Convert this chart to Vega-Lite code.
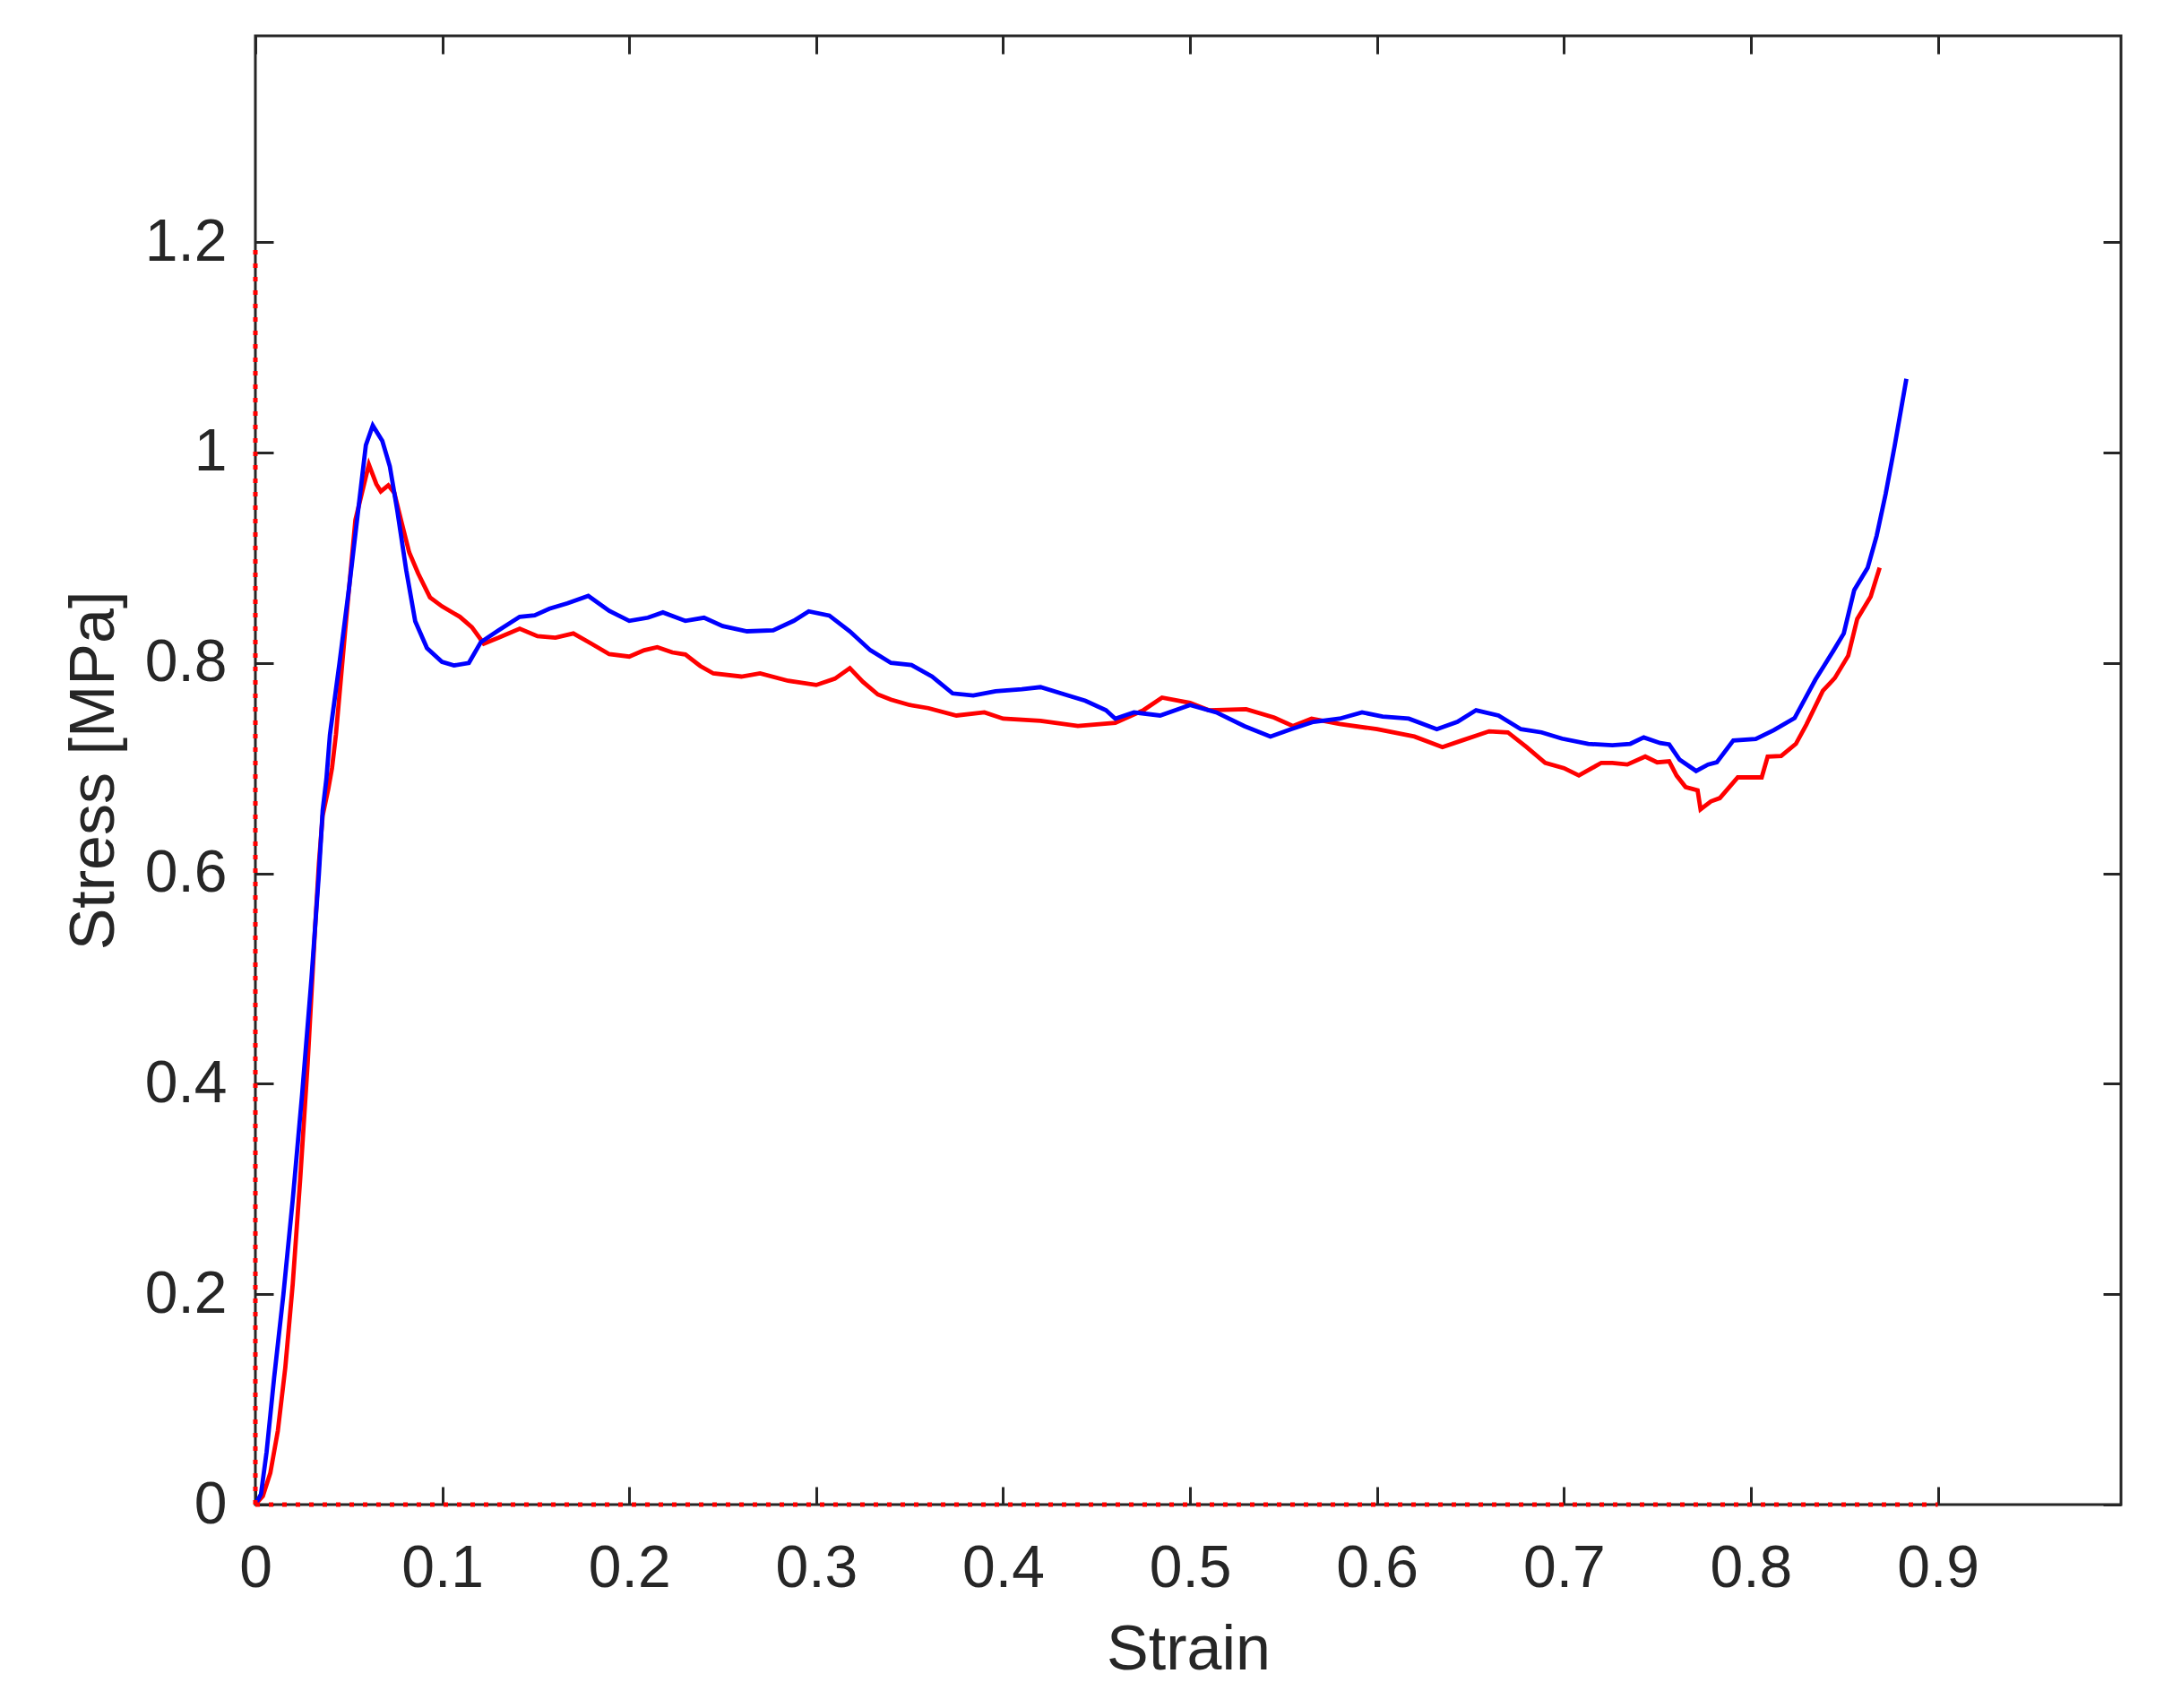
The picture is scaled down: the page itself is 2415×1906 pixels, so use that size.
{
  "$schema": "https://vega.github.io/schema/vega-lite/v6.json",
  "width": 2082,
  "height": 1639,
  "autosize": {"type": "none"},
  "padding": {"left": 285, "top": 40, "right": 48, "bottom": 227},
  "background": "white",
  "config": {
    "view": {"stroke": "#262626", "strokeWidth": 3},
    "font": "Liberation Sans",
    "axis": {
      "domain": false,
      "grid": false,
      "tickColor": "#262626",
      "tickWidth": 3,
      "tickSize": -20,
      "labelFont": "Liberation Sans",
      "labelFontSize": 66,
      "labelColor": "#262626",
      "labelFlush": false,
      "labelOverlap": false,
      "titleFont": "Liberation Sans",
      "titleFontSize": 70,
      "titleFontWeight": "normal",
      "titleColor": "#262626"
    }
  },
  "datasets": {
    "curves": [
      {"s": "red", "x": 0, "y": 0},
      {"s": "red", "x": 0.004, "y": 0.008},
      {"s": "red", "x": 0.008, "y": 0.03},
      {"s": "red", "x": 0.012, "y": 0.07},
      {"s": "red", "x": 0.016, "y": 0.13},
      {"s": "red", "x": 0.02, "y": 0.21},
      {"s": "red", "x": 0.024, "y": 0.31},
      {"s": "red", "x": 0.028, "y": 0.42},
      {"s": "red", "x": 0.032, "y": 0.55},
      {"s": "red", "x": 0.034, "y": 0.61},
      {"s": "red", "x": 0.036, "y": 0.655},
      {"s": "red", "x": 0.039, "y": 0.68},
      {"s": "red", "x": 0.041, "y": 0.7},
      {"s": "red", "x": 0.0431, "y": 0.732},
      {"s": "red", "x": 0.048, "y": 0.83},
      {"s": "red", "x": 0.0535, "y": 0.936},
      {"s": "red", "x": 0.0607, "y": 0.9886},
      {"s": "red", "x": 0.0647, "y": 0.97},
      {"s": "red", "x": 0.0671, "y": 0.963},
      {"s": "red", "x": 0.0711, "y": 0.9688},
      {"s": "red", "x": 0.0743, "y": 0.9617},
      {"s": "red", "x": 0.0783, "y": 0.933},
      {"s": "red", "x": 0.0823, "y": 0.905},
      {"s": "red", "x": 0.0871, "y": 0.885},
      {"s": "red", "x": 0.0934, "y": 0.8623},
      {"s": "red", "x": 0.0998, "y": 0.8538},
      {"s": "red", "x": 0.1094, "y": 0.8438},
      {"s": "red", "x": 0.1158, "y": 0.834},
      {"s": "red", "x": 0.1222, "y": 0.8183},
      {"s": "red", "x": 0.1302, "y": 0.824},
      {"s": "red", "x": 0.1414, "y": 0.8325},
      {"s": "red", "x": 0.1509, "y": 0.8254},
      {"s": "red", "x": 0.1605, "y": 0.824},
      {"s": "red", "x": 0.1701, "y": 0.828},
      {"s": "red", "x": 0.1797, "y": 0.8183},
      {"s": "red", "x": 0.1893, "y": 0.8083},
      {"s": "red", "x": 0.2, "y": 0.806},
      {"s": "red", "x": 0.208, "y": 0.812},
      {"s": "red", "x": 0.215, "y": 0.815},
      {"s": "red", "x": 0.223, "y": 0.81},
      {"s": "red", "x": 0.23, "y": 0.808},
      {"s": "red", "x": 0.238, "y": 0.797},
      {"s": "red", "x": 0.245, "y": 0.79},
      {"s": "red", "x": 0.26, "y": 0.787},
      {"s": "red", "x": 0.27, "y": 0.79},
      {"s": "red", "x": 0.285, "y": 0.783},
      {"s": "red", "x": 0.3, "y": 0.779},
      {"s": "red", "x": 0.31, "y": 0.785},
      {"s": "red", "x": 0.318, "y": 0.795},
      {"s": "red", "x": 0.325, "y": 0.782},
      {"s": "red", "x": 0.333, "y": 0.77},
      {"s": "red", "x": 0.34, "y": 0.765},
      {"s": "red", "x": 0.35, "y": 0.76},
      {"s": "red", "x": 0.36, "y": 0.757},
      {"s": "red", "x": 0.375, "y": 0.75},
      {"s": "red", "x": 0.39, "y": 0.753},
      {"s": "red", "x": 0.4, "y": 0.747},
      {"s": "red", "x": 0.42, "y": 0.745},
      {"s": "red", "x": 0.44, "y": 0.74},
      {"s": "red", "x": 0.46, "y": 0.743},
      {"s": "red", "x": 0.475, "y": 0.755},
      {"s": "red", "x": 0.485, "y": 0.767},
      {"s": "red", "x": 0.5, "y": 0.762},
      {"s": "red", "x": 0.51, "y": 0.755},
      {"s": "red", "x": 0.53, "y": 0.756},
      {"s": "red", "x": 0.545, "y": 0.748},
      {"s": "red", "x": 0.555, "y": 0.74},
      {"s": "red", "x": 0.565, "y": 0.747},
      {"s": "red", "x": 0.58, "y": 0.742},
      {"s": "red", "x": 0.6, "y": 0.737},
      {"s": "red", "x": 0.62, "y": 0.73},
      {"s": "red", "x": 0.635, "y": 0.72},
      {"s": "red", "x": 0.645, "y": 0.726},
      {"s": "red", "x": 0.66, "y": 0.735},
      {"s": "red", "x": 0.67, "y": 0.734},
      {"s": "red", "x": 0.68, "y": 0.72},
      {"s": "red", "x": 0.69, "y": 0.705},
      {"s": "red", "x": 0.7, "y": 0.7},
      {"s": "red", "x": 0.708, "y": 0.693},
      {"s": "red", "x": 0.715, "y": 0.7},
      {"s": "red", "x": 0.72, "y": 0.705},
      {"s": "red", "x": 0.7259, "y": 0.705},
      {"s": "red", "x": 0.7339, "y": 0.7034},
      {"s": "red", "x": 0.7435, "y": 0.711},
      {"s": "red", "x": 0.7499, "y": 0.7055},
      {"s": "red", "x": 0.7563, "y": 0.7064},
      {"s": "red", "x": 0.7603, "y": 0.6928},
      {"s": "red", "x": 0.7651, "y": 0.682},
      {"s": "red", "x": 0.7715, "y": 0.679},
      {"s": "red", "x": 0.7731, "y": 0.6608},
      {"s": "red", "x": 0.7786, "y": 0.6684},
      {"s": "red", "x": 0.7834, "y": 0.6715},
      {"s": "red", "x": 0.793, "y": 0.6912},
      {"s": "red", "x": 0.8058, "y": 0.6912},
      {"s": "red", "x": 0.809, "y": 0.711},
      {"s": "red", "x": 0.8162, "y": 0.7116},
      {"s": "red", "x": 0.8241, "y": 0.7231},
      {"s": "red", "x": 0.8297, "y": 0.7414},
      {"s": "red", "x": 0.8385, "y": 0.7734},
      {"s": "red", "x": 0.8449, "y": 0.7856},
      {"s": "red", "x": 0.8521, "y": 0.8069},
      {"s": "red", "x": 0.8569, "y": 0.8418},
      {"s": "red", "x": 0.8641, "y": 0.863},
      {"s": "red", "x": 0.8689, "y": 0.8905},
      {"s": "blue", "x": 0, "y": 0},
      {"s": "blue", "x": 0.003, "y": 0.01},
      {"s": "blue", "x": 0.006, "y": 0.05},
      {"s": "blue", "x": 0.01, "y": 0.12},
      {"s": "blue", "x": 0.015, "y": 0.2},
      {"s": "blue", "x": 0.02, "y": 0.29},
      {"s": "blue", "x": 0.025, "y": 0.39},
      {"s": "blue", "x": 0.03, "y": 0.5},
      {"s": "blue", "x": 0.034, "y": 0.6},
      {"s": "blue", "x": 0.036, "y": 0.66},
      {"s": "blue", "x": 0.038, "y": 0.69},
      {"s": "blue", "x": 0.0399, "y": 0.732},
      {"s": "blue", "x": 0.045, "y": 0.8},
      {"s": "blue", "x": 0.0503, "y": 0.874},
      {"s": "blue", "x": 0.0591, "y": 1.007},
      {"s": "blue", "x": 0.0628, "y": 1.0256},
      {"s": "blue", "x": 0.0679, "y": 1.011},
      {"s": "blue", "x": 0.0719, "y": 0.987},
      {"s": "blue", "x": 0.0759, "y": 0.945},
      {"s": "blue", "x": 0.0807, "y": 0.888},
      {"s": "blue", "x": 0.0855, "y": 0.8396},
      {"s": "blue", "x": 0.0918, "y": 0.814},
      {"s": "blue", "x": 0.0998, "y": 0.801},
      {"s": "blue", "x": 0.1062, "y": 0.7976},
      {"s": "blue", "x": 0.1142, "y": 0.8},
      {"s": "blue", "x": 0.1206, "y": 0.8197},
      {"s": "blue", "x": 0.1302, "y": 0.831},
      {"s": "blue", "x": 0.1414, "y": 0.8438},
      {"s": "blue", "x": 0.1494, "y": 0.8452},
      {"s": "blue", "x": 0.1573, "y": 0.8515},
      {"s": "blue", "x": 0.1669, "y": 0.8566},
      {"s": "blue", "x": 0.1781, "y": 0.8637},
      {"s": "blue", "x": 0.1893, "y": 0.8495},
      {"s": "blue", "x": 0.2, "y": 0.84},
      {"s": "blue", "x": 0.21, "y": 0.843},
      {"s": "blue", "x": 0.218, "y": 0.848},
      {"s": "blue", "x": 0.23, "y": 0.84},
      {"s": "blue", "x": 0.24, "y": 0.843},
      {"s": "blue", "x": 0.25, "y": 0.835},
      {"s": "blue", "x": 0.263, "y": 0.83},
      {"s": "blue", "x": 0.277, "y": 0.831},
      {"s": "blue", "x": 0.288, "y": 0.84},
      {"s": "blue", "x": 0.296, "y": 0.849},
      {"s": "blue", "x": 0.307, "y": 0.845},
      {"s": "blue", "x": 0.318, "y": 0.83},
      {"s": "blue", "x": 0.329, "y": 0.812},
      {"s": "blue", "x": 0.34, "y": 0.8},
      {"s": "blue", "x": 0.351, "y": 0.798},
      {"s": "blue", "x": 0.362, "y": 0.787},
      {"s": "blue", "x": 0.373, "y": 0.771},
      {"s": "blue", "x": 0.384, "y": 0.769},
      {"s": "blue", "x": 0.396, "y": 0.773},
      {"s": "blue", "x": 0.41, "y": 0.775},
      {"s": "blue", "x": 0.42, "y": 0.777},
      {"s": "blue", "x": 0.433, "y": 0.77},
      {"s": "blue", "x": 0.444, "y": 0.764},
      {"s": "blue", "x": 0.455, "y": 0.755},
      {"s": "blue", "x": 0.46, "y": 0.747},
      {"s": "blue", "x": 0.47, "y": 0.753},
      {"s": "blue", "x": 0.484, "y": 0.75},
      {"s": "blue", "x": 0.5, "y": 0.76},
      {"s": "blue", "x": 0.514, "y": 0.753},
      {"s": "blue", "x": 0.529, "y": 0.74},
      {"s": "blue", "x": 0.543, "y": 0.73},
      {"s": "blue", "x": 0.554, "y": 0.737},
      {"s": "blue", "x": 0.566, "y": 0.744},
      {"s": "blue", "x": 0.58, "y": 0.747},
      {"s": "blue", "x": 0.592, "y": 0.753},
      {"s": "blue", "x": 0.603, "y": 0.749},
      {"s": "blue", "x": 0.617, "y": 0.747},
      {"s": "blue", "x": 0.632, "y": 0.737},
      {"s": "blue", "x": 0.643, "y": 0.744},
      {"s": "blue", "x": 0.653, "y": 0.755},
      {"s": "blue", "x": 0.665, "y": 0.75},
      {"s": "blue", "x": 0.677, "y": 0.737},
      {"s": "blue", "x": 0.688, "y": 0.734},
      {"s": "blue", "x": 0.699, "y": 0.728},
      {"s": "blue", "x": 0.713, "y": 0.723},
      {"s": "blue", "x": 0.7259, "y": 0.7217},
      {"s": "blue", "x": 0.7355, "y": 0.7231},
      {"s": "blue", "x": 0.7427, "y": 0.7292},
      {"s": "blue", "x": 0.7515, "y": 0.7238},
      {"s": "blue", "x": 0.7563, "y": 0.7226},
      {"s": "blue", "x": 0.7619, "y": 0.708},
      {"s": "blue", "x": 0.7707, "y": 0.6973},
      {"s": "blue", "x": 0.7771, "y": 0.7034},
      {"s": "blue", "x": 0.7818, "y": 0.7055},
      {"s": "blue", "x": 0.7906, "y": 0.7262},
      {"s": "blue", "x": 0.8026, "y": 0.7277},
      {"s": "blue", "x": 0.8122, "y": 0.736},
      {"s": "blue", "x": 0.8234, "y": 0.7475},
      {"s": "blue", "x": 0.8345, "y": 0.784},
      {"s": "blue", "x": 0.8441, "y": 0.8114},
      {"s": "blue", "x": 0.8497, "y": 0.828},
      {"s": "blue", "x": 0.8553, "y": 0.8692},
      {"s": "blue", "x": 0.8625, "y": 0.8905},
      {"s": "blue", "x": 0.8673, "y": 0.9209},
      {"s": "blue", "x": 0.8721, "y": 0.9605},
      {"s": "blue", "x": 0.8769, "y": 1.006},
      {"s": "blue", "x": 0.8832, "y": 1.07}
    ],
    "dots": [
      {"x": 0, "x2": 0, "y": 0, "y2": 1.2},
      {"x": 0, "x2": 0.9, "y": 0, "y2": 0}
    ]
  },
  "layer": [
    {
      "data": {"name": "curves"},
      "mark": {"type": "line", "strokeWidth": 4.8},
      "encoding": {
        "x": {
          "field": "x",
          "type": "quantitative",
          "scale": {"domain": [0, 0.998], "nice": false, "zero": false},
          "axis": {
            "orient": "bottom",
            "values": [0, 0.1, 0.2, 0.3, 0.4, 0.5, 0.6, 0.7, 0.8, 0.9],
            "format": "~f",
            "title": "Strain",
            "labelPadding": 59,
            "titlePadding": 24
          }
        },
        "y": {
          "field": "y",
          "type": "quantitative",
          "scale": {"domain": [0, 1.396], "nice": false},
          "axis": {
            "orient": "left",
            "values": [0, 0.2, 0.4, 0.6, 0.8, 1, 1.2],
            "format": "~f",
            "title": "Stress [MPa]",
            "labelPadding": 52,
            "titlePadding": 20
          }
        },
        "color": {
          "field": "s",
          "type": "nominal",
          "scale": {"domain": ["red", "blue"], "range": ["#ff0000", "#0000ff"]},
          "legend": null
        }
      }
    },
    {
      "data": {"name": "dots"},
      "mark": {"type": "rule", "color": "#ff0000", "strokeWidth": 5, "strokeDash": [5, 10]},
      "encoding": {
        "x": {
          "field": "x",
          "type": "quantitative",
          "axis": {
            "orient": "top",
            "values": [0, 0.1, 0.2, 0.3, 0.4, 0.5, 0.6, 0.7, 0.8, 0.9],
            "labels": false,
            "title": null
          }
        },
        "x2": {"field": "x2"},
        "y": {
          "field": "y",
          "type": "quantitative",
          "axis": {
            "orient": "right",
            "values": [0, 0.2, 0.4, 0.6, 0.8, 1, 1.2],
            "labels": false,
            "title": null
          }
        },
        "y2": {"field": "y2"}
      }
    }
  ],
  "resolve": {"axis": {"x": "independent", "y": "independent"}}
}
